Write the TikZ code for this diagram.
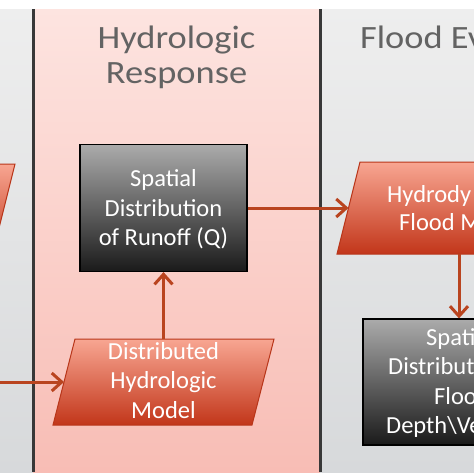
\documentclass[tikz,border=0pt]{standalone}
\usepackage{fontspec}
\setmainfont{Carlito}
\newfontfamily\ttlfont[FakeStretch=1.12]{Carlito}
\usetikzlibrary{arrows.meta}
\definecolor{grayT}{HTML}{EEEEEE}
\definecolor{grayB}{HTML}{D7D9DB}
\definecolor{pinkT}{HTML}{FDE4E0}
\definecolor{pinkB}{HTML}{F8BDB5}
\definecolor{sepc}{HTML}{383838}
\definecolor{redT}{HTML}{F8A692}
\definecolor{redB}{HTML}{C2361A}
\definecolor{redE}{HTML}{B8361A}
\definecolor{boxT}{HTML}{ABABAB}
\definecolor{boxB}{HTML}{1A1A1A}
\definecolor{arrc}{HTML}{B9441F}
\definecolor{titc}{HTML}{636363}
\tikzset{
  panelgray/.style={top color=grayT, bottom color=grayB, draw=none},
  panelpink/.style={top color=pinkT, bottom color=pinkB, draw=none},
  sepline/.style={draw=sepc, line width=3pt},
  redpara/.style={top color=redT, bottom color=redB, draw=redE, line width=1pt, line join=miter},
  graybox/.style={shape=rectangle, top color=boxT, bottom color=boxB, draw=black, line width=1.2pt, inner sep=0pt},
  boxtext/.style={text=white, font=\fontsize{24.5}{29.5}\selectfont, align=center, inner sep=0pt},
  edgetext/.style={text=white, font=\fontsize{24.5}{29.5}\selectfont, anchor=base west, inner sep=0pt},
  titletext/.style={text=titc, font=\ttlfont\fontsize{32.5}{35}\selectfont, anchor=base, inner sep=0pt},
  arr/.style={draw=arrc, line width=3pt, -{Straight Barb[length=10pt,width=18pt,line width=3pt]}},
}
% name, cx, cy, width, height, slant
\newcommand{\drawpara}[6]{%
  \path[redpara] (#2-#4/2,#3+#5/2) -- (#2+#4/2-#6,#3+#5/2) -- (#2+#4/2,#3-#5/2)
     -- (#2-#4/2+#6,#3-#5/2) -- cycle;
  \coordinate (#1w) at (#2-#4/2+#6/2,#3);
  \coordinate (#1n) at (#2,#3-#5/2);
  \coordinate (#1s) at (#2,#3+#5/2);
}
\begin{document}
\begin{tikzpicture}[x=1pt,y=-1pt]
\useasboundingbox (0,0) rectangle (474,474);
\fill[white] (0,0) rectangle (474,474);
\begin{scope}
\clip (0,0) rectangle (474,474);
% panels
\path[panelgray] (0,9) rectangle (33,472);
\path[panelpink] (33,9) rectangle (320,472);
\path[panelgray] (320,9) rectangle (480,472);
\draw[sepline] (33.5,9) -- (33.5,472);
\draw[sepline] (320.5,9) -- (320.5,472);
% titles
\node[titletext] (t1a) at (176.5,48.3) {Hydrologic};
\node[titletext] (t1b) at (176.5,83.3) {Response};
\node[titletext, anchor=base west] (t2) at (360,48.3) {Flood Ev};
% shapes
\drawpara{lm}{-105}{210}{240}{92}{23}
\drawpara{dhm}{163.5}{382}{221}{86}{22}
\node[boxtext] (dhmt) at (163.5,380.5) {Distributed\\Hydrologic\\Model};
\node[graybox, minimum width=167pt, minimum height=127pt] (sdr) at (163.5,208) {};
\node[boxtext] (sdrt) at (163.5,209.5) {Spatial\\Distribution\\of Runoff (Q)};
\drawpara{hfm}{459}{208}{244}{92}{23}
\node[edgetext] (hfm1) at (387,202) {Hydrody};
\node[edgetext] (hfm2) at (399,230) {Flood M};
\node[graybox, minimum width=192pt, minimum height=126pt] (sdf) at (459,382) {};
\node[edgetext] (sdf1) at (426,345) {Spati};
\node[edgetext] (sdf2) at (388,374) {Distribut};
\node[edgetext] (sdf3) at (434,404) {Floo};
\node[edgetext] (sdf4) at (386,433) {Depth\textbackslash Ve};
% connectors
\coordinate (lin) at (-10,382);
\draw[arr] (lin) -- (dhmw);
\draw[arr] (dhmn) -- (sdr.south);
\draw[arr] (sdr.east) -- (hfmw);
\draw[arr] (hfms) -- (sdf.north);
\end{scope}
\end{tikzpicture}
\end{document}
